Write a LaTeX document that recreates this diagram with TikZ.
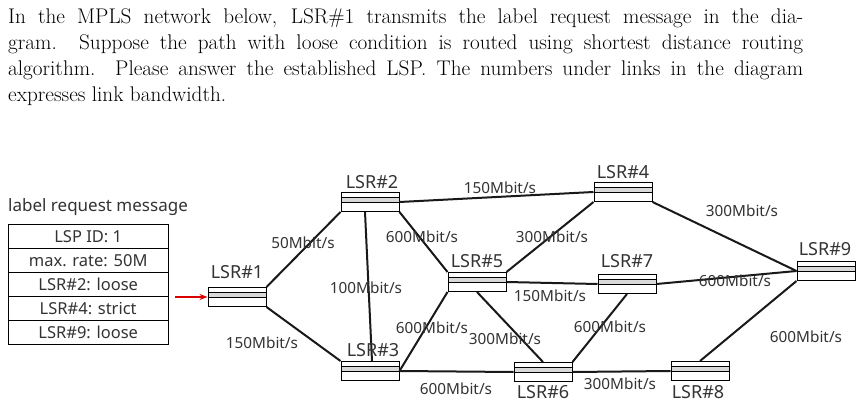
\documentclass[tikz,border=0pt]{standalone}
\usepackage{fontspec}
\usetikzlibrary{arrows.meta}
\setmainfont{Latin Modern Roman}
\newfontfamily\lab{Noto Sans}
\newcommand\txbig{\fontsize{21.2pt}{24pt}\selectfont}
\newcommand\txmid{\lab\fontsize{18pt}{20pt}\selectfont}
\newcommand\txcell{\lab\fontsize{16.5pt}{20pt}\selectfont}
\newcommand\txlrm{\lab\fontsize{17pt}{20pt}\selectfont}
\newcommand\txsm{\lab\fontsize{15.3pt}{17pt}\selectfont}
\begin{document}
\begin{tikzpicture}[x=1pt,y=-1pt,
 lsr/.style={draw=black,fill=white,minimum width=58pt,minimum height=19pt,inner sep=0pt,line width=1pt,
  path picture={\fill[gray!30] ([yshift=-5pt]path picture bounding box.north west) rectangle ([yshift=-10pt]path picture bounding box.north east);
   \draw[line width=0.5pt] ([yshift=-5pt]path picture bounding box.north west) -- ([yshift=-5pt]path picture bounding box.north east)
    ([yshift=-10pt]path picture bounding box.north west) -- ([yshift=-10pt]path picture bounding box.north east);}},
 nm/.style={text=black!80,inner sep=0pt},
 bw/.style={text=black!80,inner sep=0pt},
 lk/.style={line width=2pt,draw=black!90},
 cell/.style={draw,minimum width=160pt,minimum height=24pt,anchor=north west,text=black!80,inner sep=0pt}]
\useasboundingbox (0,0) rectangle (867,411);
\fill[white] (0,0) rectangle (867,411);
\node[anchor=base west,inner sep=0] (t1) at (8,24) {\txbig\makebox[795pt][s]{In the MPLS network below, LSR\#1 transmits the label request message in the dia-}};
\node[anchor=base west,inner sep=0] (t2) at (8,50) {\txbig\makebox[795pt][s]{gram. Suppose the path with loose condition is routed using shortest distance routing}};
\node[anchor=base west,inner sep=0] (t3) at (8,76) {\txbig\makebox[795pt][s]{algorithm. Please answer the established LSP. The numbers under links in the diagram}};
\node[anchor=base west,inner sep=0] (t4) at (8,102) {\txbig expresses link bandwidth.};
\node[anchor=west,bw] (lrm) at (8,207) {\txlrm label request message};
\node[cell] (c1) at (8,224) {\txcell LSP ID: 1};
\node[cell] (c2) at (8,248) {\txcell max. rate: 50M};
\node[cell] (c3) at (8,272) {\txcell LSR\#2: loose};
\node[cell] (c4) at (8,296) {\txcell LSR\#4: strict};
\node[cell] (c5) at (8,320) {\txcell LSR\#9: loose};
% routers
\node[lsr] (r1) at (237,297) {};
\node[lsr] (r2) at (370,202) {};
\node[lsr] (r3) at (370,371) {};
\node[lsr] (r4) at (623,192) {};
\node[lsr] (r5) at (477,282) {};
\node[lsr] (r6) at (543,372) {};
\node[lsr] (r7) at (627,284) {};
\node[lsr] (r8) at (700,371) {};
\node[lsr] (r9) at (826,271) {};
\coordinate (as) at (175,297);
\draw[red!85!black,line width=1.6pt,-{Stealth[length=8pt]}] (as) -- (r1.west);
\draw[lk] (r1.north east) -- (r2.south west);
\draw[lk] (r1.south east) -- (r3.north west);
\draw[lk] (r2.east) -- (r4.west);
\draw[lk] ([xshift=-5pt]r2.south) -- ([xshift=2pt]r3.north);
\draw[lk] (r2.south east) -- (r5.north west);
\draw[lk] (r4.south west) -- (r5.north east);
\draw[lk] (r4.south east) -- (r9.west);
\draw[lk] (r5.east) -- (r7.west);
\draw[lk] (r7.east) -- (r9.west);
\draw[lk] (r3.east) -- (r5.south west);
\draw[lk] (r5.south) -- (r6.north);
\draw[lk] (r7.south) -- (r6.north east);
\draw[lk] (r3.east) -- (r6.west);
\draw[lk] (r6.east) -- (r8.west);
\draw[lk] (r8.north) -- (r9.south west);
\node[nm] (n1) at (237,272) {\txmid LSR\#1};
\node[nm] (n2) at (372,182) {\txmid LSR\#2};
\node[nm] (n3) at (373,350) {\txmid LSR\#3};
\node[nm] (n4) at (623,172) {\txmid LSR\#4};
\node[nm] (n5) at (477,261) {\txmid LSR\#5};
\node[nm] (n6) at (543,392) {\txmid LSR\#6};
\node[nm] (n7) at (627,261) {\txmid LSR\#7};
\node[nm] (n8) at (698,392) {\txmid LSR\#8};
\node[nm] (n9) at (825,249) {\txmid LSR\#9};
\node[bw] (b1) at (500,188) {\txsm 150Mbit/s};
\node[bw] (b2) at (742,211) {\txsm 300Mbit/s};
\node[bw] (b3) at (303,243) {\txsm 50Mbit/s};
\node[bw] (b4) at (422,237) {\txsm 600Mbit/s};
\node[bw] (b5) at (552,237) {\txsm 300Mbit/s};
\node[bw] (b6) at (366,288) {\txsm 100Mbit/s};
\node[bw] (b7) at (550,296) {\txsm 150Mbit/s};
\node[bw] (b8) at (735,281) {\txsm 600Mbit/s};
\node[bw] (b9) at (432,328) {\txsm 600Mbit/s};
\node[bw] (b10) at (505,339) {\txsm 300Mbit/s};
\node[bw] (b11) at (610,327) {\txsm 600Mbit/s};
\node[bw] (b12) at (262,343) {\txsm 150Mbit/s};
\node[bw] (b13) at (456,389) {\txsm 600Mbit/s};
\node[bw] (b14) at (620,384) {\txsm 300Mbit/s};
\node[bw] (b15) at (806,337) {\txsm 600Mbit/s};
\end{tikzpicture}
\end{document}
